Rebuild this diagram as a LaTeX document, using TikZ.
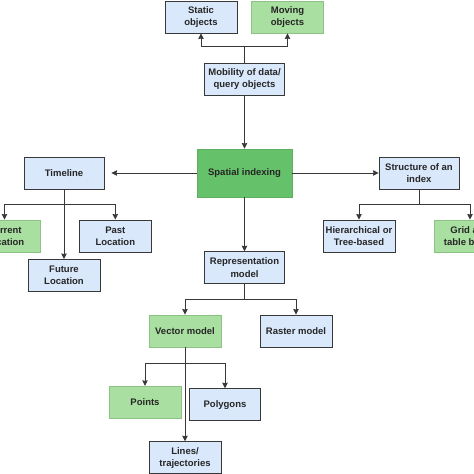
\documentclass[tikz,border=0pt]{standalone}
\usepackage{fontspec}
\setmainfont{Liberation Sans}
\usepackage{xcolor}
\usepackage{tikz}
\usetikzlibrary{positioning,calc,arrows.meta}

\definecolor{boxblue}{HTML}{DAE8FC}
\definecolor{boxgreen}{HTML}{A9DFA0}
\definecolor{edgegreen}{HTML}{8CC283}
\definecolor{maingreen}{HTML}{66C16B}
\definecolor{edgegray}{HTML}{383838}

\begin{document}
\begin{tikzpicture}[x=1pt,y=-1pt,
		box/.style={minimum width=72pt,minimum height=32pt,align=center,inner sep=2pt,
			font=\fontsize{9.5}{12.3}\selectfont\bfseries,text=black!85},
		bluebox/.style={box,draw=edgegray,line width=0.9pt,fill=boxblue},
		greenbox/.style={box,draw=edgegreen,line width=0.9pt,fill=boxgreen},
		link/.style={draw=edgegray,line width=0.9pt,-{Stealth[length=5.5pt,width=5.5pt,inset=0.5pt]}}]
		\useasboundingbox (0,0) rectangle (474,474);
		\clip (0,0) rectangle (474,474);
		
		\node[greenbox,fill=maingreen,draw=maingreen!90!black,minimum width=95pt,minimum height=48pt] (spatial) at (244.5,173) {Spatial indexing};
		\node[bluebox,minimum width=79.6pt] (mobility) at (244.5,79.3) {Mobility of data/\\query objects};
		\node[bluebox] (static) at (201,17) {Static\\objects};
		\node[greenbox] (moving) at (287.5,17) {Moving\\objects};
		\node[bluebox,minimum width=80pt] (timeline) at (64,173) {Timeline};
		\node[bluebox,minimum width=80pt] (structure) at (419,173) {Structure of an\\index};
		\node[greenbox] (current) at (4.5,236) {Current\\Location};
		\node[bluebox,minimum width=71.3pt] (past) at (115.3,236) {Past\\Location};
		\node[bluebox] (future) at (64,275.5) {Future\\Location};
		\node[bluebox] (hier) at (359,236) {Hierarchical or\\Tree-based};
		\node[greenbox] (grid) at (470,236) {Grid and\\table based};
		\node[bluebox,minimum width=79.6pt] (repr) at (244.5,267.7) {Representation\\model};
		\node[greenbox] (vector) at (185,331) {Vector model};
		\node[bluebox] (raster) at (296,331) {Raster model};
		\node[greenbox] (points) at (145,402.3) {Points};
		\node[bluebox,minimum width=71.3pt] (polygons) at (225,404.7) {Polygons};
		\node[bluebox] (lines) at (185,457.7) {Lines/\\trajectories};
		
		% mobility branch
		\draw[link] (mobility.north)--++(0,-16.3)-|(static.south);
		\draw[link] (mobility.north)--++(0,-16.3)-|(moving.south);
		\draw[link] (mobility.south)--(spatial.north);
		
		% left and right
		\draw[link,shorten >=7pt] (spatial.west)--(timeline.east);
		\draw[link] (spatial.east)--(structure.west);
		\draw[link] (timeline.south)--++(0,15.3)-|(current.north);
		\draw[link] (timeline.south)--++(0,15.3)-|(past.north);
		\draw[link] (timeline.south)--(future.north);
		\draw[link] (structure.south)--++(0,15.3)-|(hier.north);
		\draw[link] (structure.south)--++(0,15.3)-|(grid.north);
		
		% representation branch
		\draw[link] (spatial.south)--(repr.north);
		\draw[link] (repr.south)--++(0,15.6)-|(vector.north);
		\draw[link] (repr.south)--++(0,15.6)-|(raster.north);
		\draw[link] (vector.south)--++(0,16.3)-|(points.north);
		\draw[link] (vector.south)--++(0,16.3)-|(polygons.north);
		\draw[link] (vector.south)--(lines.north);
	\end{tikzpicture}
\end{document}
